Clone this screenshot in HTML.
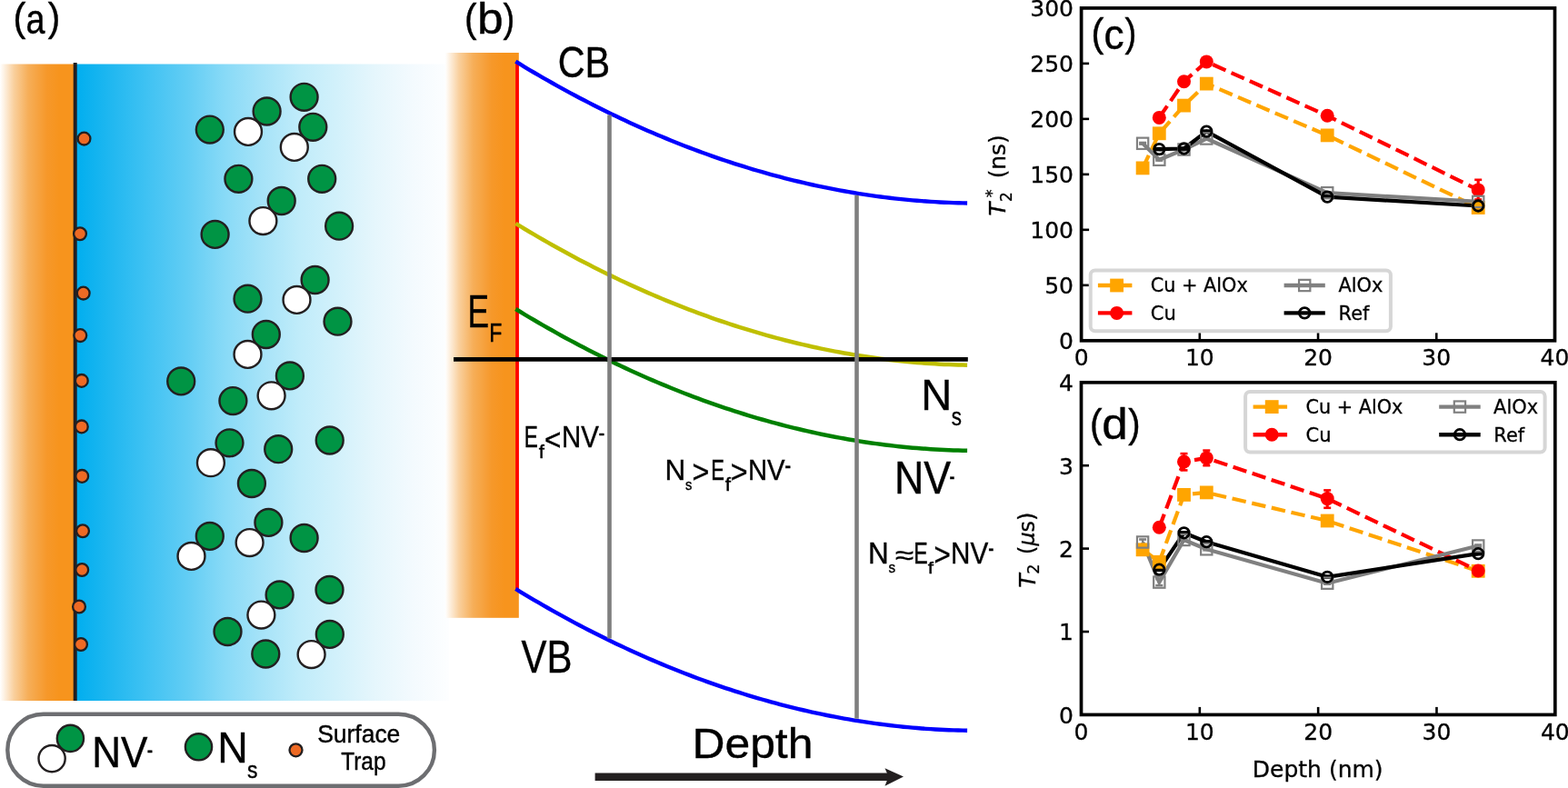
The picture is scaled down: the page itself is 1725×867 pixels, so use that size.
<!DOCTYPE html>
<html><head><meta charset="utf-8"><title>Figure</title>
<style>html,body{margin:0;padding:0;background:#fff;} svg{display:block;}</style></head>
<body><svg width="1725" height="867" viewBox="0 0 1725 867"><defs>
<linearGradient id="gOrA" gradientUnits="userSpaceOnUse" x1="0" y1="0" x2="82" y2="0"><stop offset="0" stop-color="#FFFFFF"/><stop offset="0.19" stop-color="#F9CF9C"/><stop offset="0.38" stop-color="#F6AE58"/><stop offset="0.63" stop-color="#F6982A"/><stop offset="0.8" stop-color="#F7941D"/><stop offset="1" stop-color="#F7941D"/></linearGradient>
<linearGradient id="gOrB" gradientUnits="userSpaceOnUse" x1="489.8" y1="0" x2="571" y2="0"><stop offset="0" stop-color="#FFFFFF"/><stop offset="0.19" stop-color="#F9CF9C"/><stop offset="0.38" stop-color="#F6AE58"/><stop offset="0.63" stop-color="#F6982A"/><stop offset="0.8" stop-color="#F7941D"/><stop offset="1" stop-color="#F7941D"/></linearGradient>
<linearGradient id="gBl" gradientUnits="userSpaceOnUse" x1="83" y1="0" x2="494" y2="0"><stop offset="0" stop-color="#00AEEF"/><stop offset="0.1" stop-color="#22B8F0"/><stop offset="0.2" stop-color="#42C3F3"/><stop offset="0.3" stop-color="#62CDF4"/><stop offset="0.4" stop-color="#88DAF7"/><stop offset="0.5" stop-color="#A6E3F8"/><stop offset="0.6" stop-color="#C0ECFA"/><stop offset="0.7" stop-color="#D2F1FB"/><stop offset="0.8" stop-color="#E5F6FC"/><stop offset="0.9" stop-color="#F3FAFE"/><stop offset="1" stop-color="#FDFEFF"/></linearGradient>
</defs>
<rect x="0" y="70.5" width="83" height="700.5" fill="url(#gOrA)"/>
<rect x="83" y="70.5" width="411" height="700.5" fill="url(#gBl)"/>
<line x1="82.7" y1="69" x2="82.7" y2="771" stroke="#231F20" stroke-width="4"/>
<circle cx="92.5" cy="152.6" r="6.9" fill="#EE6A24" stroke="#231F20" stroke-width="2.3"/>
<circle cx="88" cy="257.3" r="6.9" fill="#EE6A24" stroke="#231F20" stroke-width="2.3"/>
<circle cx="91.7" cy="322.6" r="6.9" fill="#EE6A24" stroke="#231F20" stroke-width="2.3"/>
<circle cx="88.3" cy="369.1" r="6.9" fill="#EE6A24" stroke="#231F20" stroke-width="2.3"/>
<circle cx="89.8" cy="418.9" r="6.9" fill="#EE6A24" stroke="#231F20" stroke-width="2.3"/>
<circle cx="89.8" cy="469.4" r="6.9" fill="#EE6A24" stroke="#231F20" stroke-width="2.3"/>
<circle cx="90.2" cy="523.9" r="6.9" fill="#EE6A24" stroke="#231F20" stroke-width="2.3"/>
<circle cx="91" cy="584.3" r="6.9" fill="#EE6A24" stroke="#231F20" stroke-width="2.3"/>
<circle cx="90.2" cy="627" r="6.9" fill="#EE6A24" stroke="#231F20" stroke-width="2.3"/>
<circle cx="87" cy="667.5" r="6.9" fill="#EE6A24" stroke="#231F20" stroke-width="2.3"/>
<circle cx="89" cy="709" r="6.9" fill="#EE6A24" stroke="#231F20" stroke-width="2.3"/>
<circle cx="230.8" cy="142.6" r="14.95" fill="#009444" stroke="#231F20" stroke-width="2.4"/>
<circle cx="293.6" cy="122.5" r="14.95" fill="#009444" stroke="#231F20" stroke-width="2.4"/>
<circle cx="334.6" cy="106.8" r="14.95" fill="#009444" stroke="#231F20" stroke-width="2.4"/>
<circle cx="344.3" cy="139.8" r="14.95" fill="#009444" stroke="#231F20" stroke-width="2.4"/>
<circle cx="262.4" cy="196.8" r="14.95" fill="#009444" stroke="#231F20" stroke-width="2.4"/>
<circle cx="354.2" cy="196.8" r="14.95" fill="#009444" stroke="#231F20" stroke-width="2.4"/>
<circle cx="309.7" cy="221.0" r="14.95" fill="#009444" stroke="#231F20" stroke-width="2.4"/>
<circle cx="236.6" cy="257.9" r="14.95" fill="#009444" stroke="#231F20" stroke-width="2.4"/>
<circle cx="373.1" cy="248.7" r="14.95" fill="#009444" stroke="#231F20" stroke-width="2.4"/>
<circle cx="346.6" cy="308.0" r="14.95" fill="#009444" stroke="#231F20" stroke-width="2.4"/>
<circle cx="272.5" cy="328.7" r="14.95" fill="#009444" stroke="#231F20" stroke-width="2.4"/>
<circle cx="371.5" cy="353.7" r="14.95" fill="#009444" stroke="#231F20" stroke-width="2.4"/>
<circle cx="292.8" cy="368.0" r="14.95" fill="#009444" stroke="#231F20" stroke-width="2.4"/>
<circle cx="199.2" cy="419.4" r="14.95" fill="#009444" stroke="#231F20" stroke-width="2.4"/>
<circle cx="318.9" cy="413.4" r="14.95" fill="#009444" stroke="#231F20" stroke-width="2.4"/>
<circle cx="256.4" cy="441.1" r="14.95" fill="#009444" stroke="#231F20" stroke-width="2.4"/>
<circle cx="252.5" cy="487.3" r="14.95" fill="#009444" stroke="#231F20" stroke-width="2.4"/>
<circle cx="306.2" cy="494.2" r="14.95" fill="#009444" stroke="#231F20" stroke-width="2.4"/>
<circle cx="362.7" cy="484.5" r="14.95" fill="#009444" stroke="#231F20" stroke-width="2.4"/>
<circle cx="276.9" cy="532.0" r="14.95" fill="#009444" stroke="#231F20" stroke-width="2.4"/>
<circle cx="295.4" cy="574.9" r="14.95" fill="#009444" stroke="#231F20" stroke-width="2.4"/>
<circle cx="230.8" cy="589.9" r="14.95" fill="#009444" stroke="#231F20" stroke-width="2.4"/>
<circle cx="334.6" cy="592.0" r="14.95" fill="#009444" stroke="#231F20" stroke-width="2.4"/>
<circle cx="307.6" cy="654.4" r="14.95" fill="#009444" stroke="#231F20" stroke-width="2.4"/>
<circle cx="362.5" cy="648.9" r="14.95" fill="#009444" stroke="#231F20" stroke-width="2.4"/>
<circle cx="250.5" cy="695.0" r="14.95" fill="#009444" stroke="#231F20" stroke-width="2.4"/>
<circle cx="362.8" cy="697.9" r="14.95" fill="#009444" stroke="#231F20" stroke-width="2.4"/>
<circle cx="292.3" cy="719.5" r="14.95" fill="#009444" stroke="#231F20" stroke-width="2.4"/>
<circle cx="273.0" cy="144.9" r="14.95" fill="#FFFFFF" stroke="#231F20" stroke-width="2.4"/>
<circle cx="323.8" cy="161.9" r="14.95" fill="#FFFFFF" stroke="#231F20" stroke-width="2.4"/>
<circle cx="289.4" cy="243.1" r="14.95" fill="#FFFFFF" stroke="#231F20" stroke-width="2.4"/>
<circle cx="326.5" cy="329.9" r="14.95" fill="#FFFFFF" stroke="#231F20" stroke-width="2.4"/>
<circle cx="272.5" cy="389.9" r="14.95" fill="#FFFFFF" stroke="#231F20" stroke-width="2.4"/>
<circle cx="298.6" cy="435.3" r="14.95" fill="#FFFFFF" stroke="#231F20" stroke-width="2.4"/>
<circle cx="231.9" cy="509.2" r="14.95" fill="#FFFFFF" stroke="#231F20" stroke-width="2.4"/>
<circle cx="274.6" cy="597.1" r="14.95" fill="#FFFFFF" stroke="#231F20" stroke-width="2.4"/>
<circle cx="210.5" cy="611.9" r="14.95" fill="#FFFFFF" stroke="#231F20" stroke-width="2.4"/>
<circle cx="287.4" cy="676.6" r="14.95" fill="#FFFFFF" stroke="#231F20" stroke-width="2.4"/>
<circle cx="342.6" cy="720.1" r="14.95" fill="#FFFFFF" stroke="#231F20" stroke-width="2.4"/>
<rect x="8.3" y="785.7" width="469.6" height="79" rx="39.5" ry="39.5" fill="none" stroke="#6D6E71" stroke-width="4.4"/>
<circle cx="77.4" cy="812.4" r="14.6" fill="#009444" stroke="#231F20" stroke-width="2.4"/>
<circle cx="57.1" cy="834.6" r="14.6" fill="#FFFFFF" stroke="#231F20" stroke-width="2.4"/>
<circle cx="218.5" cy="821.8" r="14.6" fill="#009444" stroke="#231F20" stroke-width="2.4"/>
<circle cx="325.5" cy="825.3" r="7.0" fill="#EE6A24" stroke="#231F20" stroke-width="2.3"/>
<rect x="489.8" y="58" width="81" height="621.8" fill="url(#gOrB)"/>
<line x1="569" y1="69" x2="569" y2="648" stroke="#FF0000" stroke-width="3.7"/>
<path d="M567.30,245.88 L572.32,248.94 L577.34,251.97 L582.35,254.97 L587.37,257.93 L592.39,260.86 L597.41,263.77 L602.43,266.64 L607.45,269.48 L612.46,272.29 L617.48,275.07 L622.50,277.82 L627.52,280.54 L632.54,283.23 L637.55,285.89 L642.57,288.51 L647.59,291.11 L652.61,293.67 L657.63,296.21 L662.65,298.71 L667.66,301.19 L672.68,303.63 L677.70,306.05 L682.72,308.43 L687.74,310.78 L692.75,313.11 L697.77,315.40 L702.79,317.66 L707.81,319.89 L712.83,322.10 L717.85,324.27 L722.86,326.41 L727.88,328.52 L732.90,330.60 L737.92,332.66 L742.94,334.68 L747.95,336.67 L752.97,338.63 L757.99,340.56 L763.01,342.47 L768.03,344.34 L773.05,346.18 L778.06,347.99 L783.08,349.78 L788.10,351.53 L793.12,353.25 L798.14,354.94 L803.15,356.61 L808.17,358.24 L813.19,359.84 L818.21,361.42 L823.23,362.96 L828.25,364.47 L833.26,365.96 L838.28,367.41 L843.30,368.83 L848.32,370.23 L853.34,371.59 L858.35,372.93 L863.37,374.23 L868.39,375.51 L873.41,376.75 L878.43,377.96 L883.45,379.15 L888.46,380.30 L893.48,381.43 L898.50,382.52 L903.52,383.59 L908.54,384.62 L913.55,385.63 L918.57,386.60 L923.59,387.55 L928.61,388.46 L933.63,389.34 L938.65,390.20 L943.66,391.02 L948.68,391.81 L953.70,392.58 L958.72,393.31 L963.74,394.01 L968.75,394.68 L973.77,395.33 L978.79,395.94 L983.81,396.52 L988.83,397.07 L993.85,397.59 L998.86,398.08 L1003.88,398.54 L1008.90,398.96 L1013.92,399.36 L1018.94,399.73 L1023.95,400.06 L1028.97,400.37 L1033.99,400.64 L1039.01,400.88 L1044.03,401.10 L1049.05,401.28 L1054.06,401.43 L1059.08,401.55 L1064.10,401.63" fill="none" stroke="#BFBF00" stroke-width="4.5"/>
<path d="M567.30,339.98 L572.32,343.04 L577.34,346.07 L582.35,349.07 L587.37,352.03 L592.39,354.96 L597.41,357.87 L602.43,360.74 L607.45,363.58 L612.46,366.39 L617.48,369.17 L622.50,371.92 L627.52,374.64 L632.54,377.33 L637.55,379.99 L642.57,382.61 L647.59,385.21 L652.61,387.77 L657.63,390.31 L662.65,392.81 L667.66,395.29 L672.68,397.73 L677.70,400.15 L682.72,402.53 L687.74,404.88 L692.75,407.21 L697.77,409.50 L702.79,411.76 L707.81,413.99 L712.83,416.20 L717.85,418.37 L722.86,420.51 L727.88,422.62 L732.90,424.70 L737.92,426.76 L742.94,428.78 L747.95,430.77 L752.97,432.73 L757.99,434.66 L763.01,436.57 L768.03,438.44 L773.05,440.28 L778.06,442.09 L783.08,443.88 L788.10,445.63 L793.12,447.35 L798.14,449.04 L803.15,450.71 L808.17,452.34 L813.19,453.94 L818.21,455.52 L823.23,457.06 L828.25,458.57 L833.26,460.06 L838.28,461.51 L843.30,462.93 L848.32,464.33 L853.34,465.69 L858.35,467.03 L863.37,468.33 L868.39,469.61 L873.41,470.85 L878.43,472.06 L883.45,473.25 L888.46,474.40 L893.48,475.53 L898.50,476.62 L903.52,477.69 L908.54,478.72 L913.55,479.73 L918.57,480.70 L923.59,481.65 L928.61,482.56 L933.63,483.44 L938.65,484.30 L943.66,485.12 L948.68,485.91 L953.70,486.68 L958.72,487.41 L963.74,488.11 L968.75,488.78 L973.77,489.43 L978.79,490.04 L983.81,490.62 L988.83,491.17 L993.85,491.69 L998.86,492.18 L1003.88,492.64 L1008.90,493.06 L1013.92,493.46 L1018.94,493.83 L1023.95,494.16 L1028.97,494.47 L1033.99,494.74 L1039.01,494.98 L1044.03,495.20 L1049.05,495.38 L1054.06,495.53 L1059.08,495.65 L1064.10,495.73" fill="none" stroke="#008000" stroke-width="4.5"/>
<path d="M567.30,67.68 L572.32,70.74 L577.34,73.77 L582.35,76.77 L587.37,79.73 L592.39,82.66 L597.41,85.57 L602.43,88.44 L607.45,91.28 L612.46,94.09 L617.48,96.87 L622.50,99.62 L627.52,102.34 L632.54,105.03 L637.55,107.69 L642.57,110.31 L647.59,112.91 L652.61,115.47 L657.63,118.01 L662.65,120.51 L667.66,122.99 L672.68,125.43 L677.70,127.85 L682.72,130.23 L687.74,132.58 L692.75,134.91 L697.77,137.20 L702.79,139.46 L707.81,141.69 L712.83,143.90 L717.85,146.07 L722.86,148.21 L727.88,150.32 L732.90,152.40 L737.92,154.46 L742.94,156.48 L747.95,158.47 L752.97,160.43 L757.99,162.36 L763.01,164.27 L768.03,166.14 L773.05,167.98 L778.06,169.79 L783.08,171.58 L788.10,173.33 L793.12,175.05 L798.14,176.74 L803.15,178.41 L808.17,180.04 L813.19,181.64 L818.21,183.22 L823.23,184.76 L828.25,186.27 L833.26,187.76 L838.28,189.21 L843.30,190.63 L848.32,192.03 L853.34,193.39 L858.35,194.73 L863.37,196.03 L868.39,197.31 L873.41,198.55 L878.43,199.76 L883.45,200.95 L888.46,202.10 L893.48,203.23 L898.50,204.32 L903.52,205.39 L908.54,206.42 L913.55,207.43 L918.57,208.40 L923.59,209.35 L928.61,210.26 L933.63,211.14 L938.65,212.00 L943.66,212.82 L948.68,213.61 L953.70,214.38 L958.72,215.11 L963.74,215.81 L968.75,216.48 L973.77,217.13 L978.79,217.74 L983.81,218.32 L988.83,218.87 L993.85,219.39 L998.86,219.88 L1003.88,220.34 L1008.90,220.76 L1013.92,221.16 L1018.94,221.53 L1023.95,221.86 L1028.97,222.17 L1033.99,222.44 L1039.01,222.68 L1044.03,222.90 L1049.05,223.08 L1054.06,223.23 L1059.08,223.35 L1064.10,223.43" fill="none" stroke="#0000FF" stroke-width="4.4"/>
<path d="M567.30,647.98 L572.32,651.04 L577.34,654.07 L582.35,657.07 L587.37,660.03 L592.39,662.96 L597.41,665.87 L602.43,668.74 L607.45,671.58 L612.46,674.39 L617.48,677.17 L622.50,679.92 L627.52,682.64 L632.54,685.33 L637.55,687.99 L642.57,690.61 L647.59,693.21 L652.61,695.77 L657.63,698.31 L662.65,700.81 L667.66,703.29 L672.68,705.73 L677.70,708.15 L682.72,710.53 L687.74,712.88 L692.75,715.21 L697.77,717.50 L702.79,719.76 L707.81,721.99 L712.83,724.20 L717.85,726.37 L722.86,728.51 L727.88,730.62 L732.90,732.70 L737.92,734.76 L742.94,736.78 L747.95,738.77 L752.97,740.73 L757.99,742.66 L763.01,744.57 L768.03,746.44 L773.05,748.28 L778.06,750.09 L783.08,751.88 L788.10,753.63 L793.12,755.35 L798.14,757.04 L803.15,758.71 L808.17,760.34 L813.19,761.94 L818.21,763.52 L823.23,765.06 L828.25,766.57 L833.26,768.06 L838.28,769.51 L843.30,770.93 L848.32,772.33 L853.34,773.69 L858.35,775.03 L863.37,776.33 L868.39,777.61 L873.41,778.85 L878.43,780.06 L883.45,781.25 L888.46,782.40 L893.48,783.53 L898.50,784.62 L903.52,785.69 L908.54,786.72 L913.55,787.73 L918.57,788.70 L923.59,789.65 L928.61,790.56 L933.63,791.44 L938.65,792.30 L943.66,793.12 L948.68,793.91 L953.70,794.68 L958.72,795.41 L963.74,796.11 L968.75,796.78 L973.77,797.43 L978.79,798.04 L983.81,798.62 L988.83,799.17 L993.85,799.69 L998.86,800.18 L1003.88,800.64 L1008.90,801.06 L1013.92,801.46 L1018.94,801.83 L1023.95,802.16 L1028.97,802.47 L1033.99,802.74 L1039.01,802.98 L1044.03,803.20 L1049.05,803.38 L1054.06,803.53 L1059.08,803.65 L1064.10,803.73" fill="none" stroke="#0000FF" stroke-width="4.4"/>
<line x1="499" y1="395.4" x2="1064.8" y2="395.4" stroke="#000" stroke-width="4.6"/>
<line x1="670.5" y1="126.57" x2="670.5" y2="702.47" stroke="#7F7F7F" stroke-width="4.6"/>
<line x1="942.5" y1="214.83" x2="942.5" y2="790.73" stroke="#7F7F7F" stroke-width="4.6"/>
<path d="M654.6,850.4 L978,850.4 L978,858.9 L654.6,858.9 Z" fill="#231F20"/>
<path d="M994,854.6 L973.5,845.2 L977.5,854.6 L973.5,864.8 Z" fill="#231F20"/>
<text transform="matrix(0.41538,0,0,0.44362,14.51,34.48)" font-family="'Liberation Sans', sans-serif" font-style="normal" font-size="100" fill="#000" stroke="#000" stroke-width="0.931">(</text>
<text transform="matrix(0.37692,0,0,0.46364,28.39,37.44)" font-family="'Liberation Sans', sans-serif" font-style="normal" font-size="100" fill="#000" stroke="#000" stroke-width="0.952">a</text>
<text transform="matrix(0.40385,0,0,0.44362,52.80,34.48)" font-family="'Liberation Sans', sans-serif" font-style="normal" font-size="100" fill="#000" stroke="#000" stroke-width="0.944">)</text>
<text transform="matrix(0.40385,0,0,0.44255,510.88,34.51)" font-family="'Liberation Sans', sans-serif" font-style="normal" font-size="100" fill="#000" stroke="#000" stroke-width="0.945">(</text>
<text transform="matrix(0.51556,0,0,0.48514,525.11,37.31)" font-family="'Liberation Sans', sans-serif" font-style="normal" font-size="100" fill="#000" stroke="#000" stroke-width="0.799">b</text>
<text transform="matrix(0.38077,0,0,0.44255,553.52,34.51)" font-family="'Liberation Sans', sans-serif" font-style="normal" font-size="100" fill="#000" stroke="#000" stroke-width="0.972">)</text>
<text transform="matrix(0.41538,0,0,0.44149,1200.61,51.23)" font-family="'Liberation Sans', sans-serif" font-style="normal" font-size="100" fill="#000" stroke="#000" stroke-width="0.934">(</text>
<text transform="matrix(0.44186,0,0,0.45818,1214.53,54.14)" font-family="'Liberation Sans', sans-serif" font-style="normal" font-size="100" fill="#000" stroke="#000" stroke-width="0.889">c</text>
<text transform="matrix(0.38462,0,0,0.44149,1237.42,51.23)" font-family="'Liberation Sans', sans-serif" font-style="normal" font-size="100" fill="#000" stroke="#000" stroke-width="0.968">)</text>
<text transform="matrix(0.40385,0,0,0.43511,1198.88,480.76)" font-family="'Liberation Sans', sans-serif" font-style="normal" font-size="100" fill="#000" stroke="#000" stroke-width="0.954">(</text>
<text transform="matrix(0.51111,0,0,0.47973,1212.16,483.42)" font-family="'Liberation Sans', sans-serif" font-style="normal" font-size="100" fill="#000" stroke="#000" stroke-width="0.807">d</text>
<text transform="matrix(0.40000,0,0,0.43511,1241.30,480.76)" font-family="'Liberation Sans', sans-serif" font-style="normal" font-size="100" fill="#000" stroke="#000" stroke-width="0.958">)</text>
<text transform="matrix(0.41318,0,0,0.47746,613.63,85.02)" font-family="'Liberation Sans', sans-serif" font-style="normal" font-size="100" fill="#000" stroke="#000" stroke-width="0.898">CB</text>
<text transform="matrix(0.35273,0,0,0.49565,514.48,359.80)" font-family="'Liberation Sans', sans-serif" font-style="normal" font-size="100" fill="#000" stroke="#000" stroke-width="0.943">E</text>
<text transform="matrix(0.23061,0,0,0.28841,538.36,375.90)" font-family="'Liberation Sans', sans-serif" font-style="normal" font-size="100" fill="#000" stroke="#000" stroke-width="1.541">F</text>
<text transform="matrix(0.22545,0,0,0.32319,576.80,492.30)" font-family="'Liberation Sans', sans-serif" font-style="normal" font-size="100" fill="#000" stroke="#000" stroke-width="1.458">E</text>
<text transform="matrix(0.22222,0,0,0.19726,592.78,503.80)" font-family="'Liberation Sans', sans-serif" font-style="normal" font-size="100" fill="#000" stroke="#000" stroke-width="1.907">f</text>
<text transform="matrix(0.31429,0,0,0.33800,598.93,494.70)" font-family="'Liberation Sans', sans-serif" font-style="normal" font-size="100" fill="#000" stroke="#000" stroke-width="1.226">&lt;</text>
<text transform="matrix(0.29385,0,0,0.32319,618.05,492.30)" font-family="'Liberation Sans', sans-serif" font-style="normal" font-size="100" fill="#000" stroke="#000" stroke-width="1.297">NV</text>
<text transform="matrix(0.20400,0,0,0.26250,658.48,484.74)" font-family="'Liberation Sans', sans-serif" font-style="normal" font-size="100" fill="#000" stroke="#000" stroke-width="1.715">-</text>
<text transform="matrix(0.31429,0,0,0.32174,731.39,528.00)" font-family="'Liberation Sans', sans-serif" font-style="normal" font-size="100" fill="#000" stroke="#000" stroke-width="1.258">N</text>
<text transform="matrix(0.14651,0,0,0.16000,754.06,539.44)" font-family="'Liberation Sans', sans-serif" font-style="normal" font-size="100" fill="#000" stroke="#000" stroke-width="2.610">s</text>
<text transform="matrix(0.32245,0,0,0.34200,761.49,530.74)" font-family="'Liberation Sans', sans-serif" font-style="normal" font-size="100" fill="#000" stroke="#000" stroke-width="1.204">&gt;</text>
<text transform="matrix(0.22000,0,0,0.32174,782.24,528.00)" font-family="'Liberation Sans', sans-serif" font-style="normal" font-size="100" fill="#000" stroke="#000" stroke-width="1.477">E</text>
<text transform="matrix(0.22593,0,0,0.19589,797.67,539.60)" font-family="'Liberation Sans', sans-serif" font-style="normal" font-size="100" fill="#000" stroke="#000" stroke-width="1.897">f</text>
<text transform="matrix(0.32245,0,0,0.34200,803.69,530.74)" font-family="'Liberation Sans', sans-serif" font-style="normal" font-size="100" fill="#000" stroke="#000" stroke-width="1.204">&gt;</text>
<text transform="matrix(0.29231,0,0,0.32174,822.96,528.00)" font-family="'Liberation Sans', sans-serif" font-style="normal" font-size="100" fill="#000" stroke="#000" stroke-width="1.303">NV</text>
<text transform="matrix(0.20800,0,0,0.27500,863.37,520.83)" font-family="'Liberation Sans', sans-serif" font-style="normal" font-size="100" fill="#000" stroke="#000" stroke-width="1.656">-</text>
<text transform="matrix(0.31429,0,0,0.32899,954.99,619.90)" font-family="'Liberation Sans', sans-serif" font-style="normal" font-size="100" fill="#000" stroke="#000" stroke-width="1.244">N</text>
<text transform="matrix(0.15116,0,0,0.16182,977.45,630.44)" font-family="'Liberation Sans', sans-serif" font-style="normal" font-size="100" fill="#000" stroke="#000" stroke-width="2.556">s</text>
<text transform="matrix(0.36939,0,0,0.30000,984.69,621.00)" font-family="'Liberation Sans', sans-serif" font-style="normal" font-size="100" fill="#000" stroke="#000" stroke-width="1.195">≈</text>
<text transform="matrix(0.23091,0,0,0.32899,1005.15,619.90)" font-family="'Liberation Sans', sans-serif" font-style="normal" font-size="100" fill="#000" stroke="#000" stroke-width="1.429">E</text>
<text transform="matrix(0.22593,0,0,0.19178,1020.77,630.60)" font-family="'Liberation Sans', sans-serif" font-style="normal" font-size="100" fill="#000" stroke="#000" stroke-width="1.915">f</text>
<text transform="matrix(0.31224,0,0,0.34400,1027.44,621.75)" font-family="'Liberation Sans', sans-serif" font-style="normal" font-size="100" fill="#000" stroke="#000" stroke-width="1.219">&gt;</text>
<text transform="matrix(0.29615,0,0,0.32899,1046.03,619.90)" font-family="'Liberation Sans', sans-serif" font-style="normal" font-size="100" fill="#000" stroke="#000" stroke-width="1.280">NV</text>
<text transform="matrix(0.18400,0,0,0.27500,1087.16,612.03)" font-family="'Liberation Sans', sans-serif" font-style="normal" font-size="100" fill="#000" stroke="#000" stroke-width="1.743">-</text>
<text transform="matrix(0.47143,0,0,0.48986,1013.33,451.30)" font-family="'Liberation Sans', sans-serif" font-style="normal" font-size="100" fill="#000" stroke="#000" stroke-width="0.832">N</text>
<text transform="matrix(0.22326,0,0,0.26909,1046.83,468.03)" font-family="'Liberation Sans', sans-serif" font-style="normal" font-size="100" fill="#000" stroke="#000" stroke-width="1.625">s</text>
<text transform="matrix(0.44769,0,0,0.49420,983.92,543.00)" font-family="'Liberation Sans', sans-serif" font-style="normal" font-size="100" fill="#000" stroke="#000" stroke-width="0.849">NV</text>
<text transform="matrix(0.17600,0,0,0.27500,1044.60,532.53)" font-family="'Liberation Sans', sans-serif" font-style="normal" font-size="100" fill="#000" stroke="#000" stroke-width="1.774">-</text>
<text transform="matrix(0.41890,0,0,0.50290,573.48,739.70)" font-family="'Liberation Sans', sans-serif" font-style="normal" font-size="100" fill="#000" stroke="#000" stroke-width="0.868">VB</text>
<text transform="matrix(0.49802,0,0,0.45638,761.52,833.72)" font-family="'Liberation Sans', sans-serif" font-style="normal" font-size="100" fill="#000" stroke="#000" stroke-width="0.838">Depth</text>
<text transform="matrix(0.44077,0,0,0.48986,101.17,843.80)" font-family="'Liberation Sans', sans-serif" font-style="normal" font-size="100" fill="#000" stroke="#000" stroke-width="0.860">NV</text>
<text transform="matrix(0.19200,0,0,0.27500,161.73,833.53)" font-family="'Liberation Sans', sans-serif" font-style="normal" font-size="100" fill="#000" stroke="#000" stroke-width="1.713">-</text>
<text transform="matrix(0.46429,0,0,0.48551,239.19,839.30)" font-family="'Liberation Sans', sans-serif" font-style="normal" font-size="100" fill="#000" stroke="#000" stroke-width="0.842">N</text>
<text transform="matrix(0.22791,0,0,0.26000,271.92,856.34)" font-family="'Liberation Sans', sans-serif" font-style="normal" font-size="100" fill="#000" stroke="#000" stroke-width="1.640">s</text>
<text transform="matrix(0.26448,0,0,0.27703,349.18,817.12)" font-family="'Liberation Sans', sans-serif" font-style="normal" font-size="100" fill="#000" stroke="#000" stroke-width="1.477">Surface</text>
<text transform="matrix(0.24439,0,0,0.28000,375.21,847.32)" font-family="'Liberation Sans', sans-serif" font-style="normal" font-size="100" fill="#000" stroke="#000" stroke-width="1.526">Trap</text>
<line x1="1189.6" y1="313.82" x2="1198.10" y2="313.82" stroke="#000" stroke-width="2.6"/>
<line x1="1189.6" y1="252.83" x2="1198.10" y2="252.83" stroke="#000" stroke-width="2.6"/>
<line x1="1189.6" y1="191.85" x2="1198.10" y2="191.85" stroke="#000" stroke-width="2.6"/>
<line x1="1189.6" y1="130.87" x2="1198.10" y2="130.87" stroke="#000" stroke-width="2.6"/>
<line x1="1189.6" y1="69.88" x2="1198.10" y2="69.88" stroke="#000" stroke-width="2.6"/>
<line x1="1319.82" y1="374.8" x2="1319.82" y2="366.30" stroke="#000" stroke-width="2.6"/>
<line x1="1450.05" y1="374.8" x2="1450.05" y2="366.30" stroke="#000" stroke-width="2.6"/>
<line x1="1580.28" y1="374.8" x2="1580.28" y2="366.30" stroke="#000" stroke-width="2.6"/>
<rect x="1189.6" y="8.9" width="520.9000000000001" height="365.90000000000003" fill="none" stroke="#000" stroke-width="3.7"/>
<text transform="translate(1181.00,384.15)" font-family="'DejaVu Sans', sans-serif" font-size="25" text-anchor="end" stroke="#000" stroke-width="0.3">0</text>
<text transform="translate(1181.00,323.17)" font-family="'DejaVu Sans', sans-serif" font-size="25" text-anchor="end" stroke="#000" stroke-width="0.3">50</text>
<text transform="translate(1181.00,262.18)" font-family="'DejaVu Sans', sans-serif" font-size="25" text-anchor="end" stroke="#000" stroke-width="0.3">100</text>
<text transform="translate(1181.00,201.20)" font-family="'DejaVu Sans', sans-serif" font-size="25" text-anchor="end" stroke="#000" stroke-width="0.3">150</text>
<text transform="translate(1181.00,140.22)" font-family="'DejaVu Sans', sans-serif" font-size="25" text-anchor="end" stroke="#000" stroke-width="0.3">200</text>
<text transform="translate(1181.00,79.23)" font-family="'DejaVu Sans', sans-serif" font-size="25" text-anchor="end" stroke="#000" stroke-width="0.3">250</text>
<text transform="translate(1181.00,18.25)" font-family="'DejaVu Sans', sans-serif" font-size="25" text-anchor="end" stroke="#000" stroke-width="0.3">300</text>
<text transform="translate(1189.60,402.30)" font-family="'DejaVu Sans', sans-serif" font-size="25" text-anchor="middle" stroke="#000" stroke-width="0.3">0</text>
<text transform="translate(1319.82,402.30)" font-family="'DejaVu Sans', sans-serif" font-size="25" text-anchor="middle" stroke="#000" stroke-width="0.3">10</text>
<text transform="translate(1450.05,402.30)" font-family="'DejaVu Sans', sans-serif" font-size="25" text-anchor="middle" stroke="#000" stroke-width="0.3">20</text>
<text transform="translate(1580.28,402.30)" font-family="'DejaVu Sans', sans-serif" font-size="25" text-anchor="middle" stroke="#000" stroke-width="0.3">30</text>
<text transform="translate(1710.50,402.30)" font-family="'DejaVu Sans', sans-serif" font-size="25" text-anchor="middle" stroke="#000" stroke-width="0.3">40</text>
<line x1="1189.5" y1="695.00" x2="1198.00" y2="695.00" stroke="#000" stroke-width="2.6"/>
<line x1="1189.5" y1="603.60" x2="1198.00" y2="603.60" stroke="#000" stroke-width="2.6"/>
<line x1="1189.5" y1="512.20" x2="1198.00" y2="512.20" stroke="#000" stroke-width="2.6"/>
<line x1="1319.83" y1="786.4" x2="1319.83" y2="777.90" stroke="#000" stroke-width="2.6"/>
<line x1="1450.15" y1="786.4" x2="1450.15" y2="777.90" stroke="#000" stroke-width="2.6"/>
<line x1="1580.47" y1="786.4" x2="1580.47" y2="777.90" stroke="#000" stroke-width="2.6"/>
<rect x="1189.5" y="420.8" width="521.3" height="365.59999999999997" fill="none" stroke="#000" stroke-width="3.7"/>
<text transform="translate(1180.90,795.75)" font-family="'DejaVu Sans', sans-serif" font-size="25" text-anchor="end" stroke="#000" stroke-width="0.3">0</text>
<text transform="translate(1180.90,704.35)" font-family="'DejaVu Sans', sans-serif" font-size="25" text-anchor="end" stroke="#000" stroke-width="0.3">1</text>
<text transform="translate(1180.90,612.95)" font-family="'DejaVu Sans', sans-serif" font-size="25" text-anchor="end" stroke="#000" stroke-width="0.3">2</text>
<text transform="translate(1180.90,521.55)" font-family="'DejaVu Sans', sans-serif" font-size="25" text-anchor="end" stroke="#000" stroke-width="0.3">3</text>
<text transform="translate(1180.90,430.15)" font-family="'DejaVu Sans', sans-serif" font-size="25" text-anchor="end" stroke="#000" stroke-width="0.3">4</text>
<text transform="translate(1189.50,813.90)" font-family="'DejaVu Sans', sans-serif" font-size="25" text-anchor="middle" stroke="#000" stroke-width="0.3">0</text>
<text transform="translate(1319.83,813.90)" font-family="'DejaVu Sans', sans-serif" font-size="25" text-anchor="middle" stroke="#000" stroke-width="0.3">10</text>
<text transform="translate(1450.15,813.90)" font-family="'DejaVu Sans', sans-serif" font-size="25" text-anchor="middle" stroke="#000" stroke-width="0.3">20</text>
<text transform="translate(1580.47,813.90)" font-family="'DejaVu Sans', sans-serif" font-size="25" text-anchor="middle" stroke="#000" stroke-width="0.3">30</text>
<text transform="translate(1710.80,813.90)" font-family="'DejaVu Sans', sans-serif" font-size="25" text-anchor="middle" stroke="#000" stroke-width="0.3">40</text>
<text x="1449.7" y="854.7" font-family="'DejaVu Sans', sans-serif" font-size="25" text-anchor="middle" stroke="#000" stroke-width="0.3">Depth (nm)</text>
<path d="M1257.1,184.9 L1275.3,146.8 L1302.5,116.1 L1327.3,92.1 L1460.2,148.9 L1626.2,228.5" fill="none" stroke="#FFA500" stroke-width="4.2" stroke-dasharray="15.5,6.7" stroke-linejoin="round"/>
<path d="M1275.3,129.4 L1302.5,89.7 L1327.3,67.9 L1460.2,127.3 L1626.2,208.9" fill="none" stroke="#FF0000" stroke-width="4.2" stroke-dasharray="15.5,6.7" stroke-linejoin="round"/>
<path d="M1257.1,157.8 L1275.3,175.8 L1302.5,164.5 L1327.3,152.5 L1460.2,212.2 L1626.2,221.9" fill="none" stroke="#808080" stroke-width="4.2" stroke-linejoin="round"/>
<path d="M1275.3,164.1 L1302.5,163.5 L1327.3,144.6 L1460.2,216.6 L1626.2,226.5" fill="none" stroke="#000000" stroke-width="4.2" stroke-linejoin="round"/>
<line x1="1626.2" y1="197.8" x2="1626.2" y2="219.5" stroke="#FF0000" stroke-width="3.2"/>
<line x1="1622.2" y1="197.8" x2="1630.2" y2="197.8" stroke="#FF0000" stroke-width="2.6"/>
<line x1="1622.2" y1="219.5" x2="1630.2" y2="219.5" stroke="#FF0000" stroke-width="2.6"/>
<line x1="1257.1" y1="157.0" x2="1257.1" y2="158.6" stroke="#808080" stroke-width="2.4"/>
<line x1="1253.1" y1="157.0" x2="1261.1" y2="157.0" stroke="#808080" stroke-width="2.6"/>
<line x1="1253.1" y1="158.6" x2="1261.1" y2="158.6" stroke="#808080" stroke-width="2.6"/>
<line x1="1275.3" y1="175.0" x2="1275.3" y2="176.6" stroke="#808080" stroke-width="2.4"/>
<line x1="1271.3" y1="175.0" x2="1279.3" y2="175.0" stroke="#808080" stroke-width="2.6"/>
<line x1="1271.3" y1="176.6" x2="1279.3" y2="176.6" stroke="#808080" stroke-width="2.6"/>
<line x1="1302.5" y1="163.7" x2="1302.5" y2="165.3" stroke="#808080" stroke-width="2.4"/>
<line x1="1298.5" y1="163.7" x2="1306.5" y2="163.7" stroke="#808080" stroke-width="2.6"/>
<line x1="1298.5" y1="165.3" x2="1306.5" y2="165.3" stroke="#808080" stroke-width="2.6"/>
<line x1="1327.3" y1="151.7" x2="1327.3" y2="153.3" stroke="#808080" stroke-width="2.4"/>
<line x1="1323.3" y1="151.7" x2="1331.3" y2="151.7" stroke="#808080" stroke-width="2.6"/>
<line x1="1323.3" y1="153.3" x2="1331.3" y2="153.3" stroke="#808080" stroke-width="2.6"/>
<line x1="1460.2" y1="211.4" x2="1460.2" y2="213.0" stroke="#808080" stroke-width="2.4"/>
<line x1="1456.2" y1="211.4" x2="1464.2" y2="211.4" stroke="#808080" stroke-width="2.6"/>
<line x1="1456.2" y1="213.0" x2="1464.2" y2="213.0" stroke="#808080" stroke-width="2.6"/>
<line x1="1626.2" y1="221.1" x2="1626.2" y2="222.7" stroke="#808080" stroke-width="2.4"/>
<line x1="1622.2" y1="221.1" x2="1630.2" y2="221.1" stroke="#808080" stroke-width="2.6"/>
<line x1="1622.2" y1="222.7" x2="1630.2" y2="222.7" stroke="#808080" stroke-width="2.6"/>
<line x1="1275.3" y1="163.1" x2="1275.3" y2="165.1" stroke="#000000" stroke-width="2.4"/>
<line x1="1270.7" y1="163.1" x2="1279.9" y2="163.1" stroke="#000000" stroke-width="2.6"/>
<line x1="1270.7" y1="165.1" x2="1279.9" y2="165.1" stroke="#000000" stroke-width="2.6"/>
<line x1="1302.5" y1="162.5" x2="1302.5" y2="164.5" stroke="#000000" stroke-width="2.4"/>
<line x1="1297.9" y1="162.5" x2="1307.1" y2="162.5" stroke="#000000" stroke-width="2.6"/>
<line x1="1297.9" y1="164.5" x2="1307.1" y2="164.5" stroke="#000000" stroke-width="2.6"/>
<line x1="1327.3" y1="143.6" x2="1327.3" y2="145.6" stroke="#000000" stroke-width="2.4"/>
<line x1="1322.7" y1="143.6" x2="1331.9" y2="143.6" stroke="#000000" stroke-width="2.6"/>
<line x1="1322.7" y1="145.6" x2="1331.9" y2="145.6" stroke="#000000" stroke-width="2.6"/>
<line x1="1460.2" y1="215.6" x2="1460.2" y2="217.6" stroke="#000000" stroke-width="2.4"/>
<line x1="1455.6" y1="215.6" x2="1464.8" y2="215.6" stroke="#000000" stroke-width="2.6"/>
<line x1="1455.6" y1="217.6" x2="1464.8" y2="217.6" stroke="#000000" stroke-width="2.6"/>
<line x1="1626.2" y1="225.5" x2="1626.2" y2="227.5" stroke="#000000" stroke-width="2.4"/>
<line x1="1621.6" y1="225.5" x2="1630.8" y2="225.5" stroke="#000000" stroke-width="2.6"/>
<line x1="1621.6" y1="227.5" x2="1630.8" y2="227.5" stroke="#000000" stroke-width="2.6"/>
<rect x="1249.7" y="177.5" width="14.8" height="14.8" fill="#FFA500"/>
<rect x="1267.9" y="139.4" width="14.8" height="14.8" fill="#FFA500"/>
<rect x="1295.1" y="108.7" width="14.8" height="14.8" fill="#FFA500"/>
<rect x="1319.9" y="84.7" width="14.8" height="14.8" fill="#FFA500"/>
<rect x="1452.8" y="141.5" width="14.8" height="14.8" fill="#FFA500"/>
<rect x="1618.8" y="221.1" width="14.8" height="14.8" fill="#FFA500"/>
<circle cx="1275.3" cy="129.4" r="7.5" fill="#FF0000"/>
<circle cx="1302.5" cy="89.7" r="7.5" fill="#FF0000"/>
<circle cx="1327.3" cy="67.9" r="7.5" fill="#FF0000"/>
<circle cx="1460.2" cy="127.3" r="7.5" fill="#FF0000"/>
<circle cx="1626.2" cy="208.9" r="7.5" fill="#FF0000"/>
<rect x="1250.95" y="151.65" width="12.3" height="12.3" fill="none" stroke="#808080" stroke-width="2.2"/>
<rect x="1269.15" y="169.65" width="12.3" height="12.3" fill="none" stroke="#808080" stroke-width="2.2"/>
<rect x="1296.35" y="158.35" width="12.3" height="12.3" fill="none" stroke="#808080" stroke-width="2.2"/>
<rect x="1321.15" y="146.35" width="12.3" height="12.3" fill="none" stroke="#808080" stroke-width="2.2"/>
<rect x="1454.05" y="206.05" width="12.3" height="12.3" fill="none" stroke="#808080" stroke-width="2.2"/>
<rect x="1620.05" y="215.75" width="12.3" height="12.3" fill="none" stroke="#808080" stroke-width="2.2"/>
<circle cx="1275.3" cy="164.1" r="5.75" fill="none" stroke="#000000" stroke-width="2.8"/>
<circle cx="1302.5" cy="163.5" r="5.75" fill="none" stroke="#000000" stroke-width="2.8"/>
<circle cx="1327.3" cy="144.6" r="5.75" fill="none" stroke="#000000" stroke-width="2.8"/>
<circle cx="1460.2" cy="216.6" r="5.75" fill="none" stroke="#000000" stroke-width="2.8"/>
<circle cx="1626.2" cy="226.5" r="5.75" fill="none" stroke="#000000" stroke-width="2.8"/>
<path d="M1257.1,604.8 L1275.3,618.3 L1302.5,544.4 L1327.3,541.9 L1460.2,573.0 L1626.2,628.3" fill="none" stroke="#FFA500" stroke-width="4.2" stroke-dasharray="15.5,6.7" stroke-linejoin="round"/>
<path d="M1275.3,580.2 L1302.5,508.0 L1327.3,503.9 L1460.2,548.6 L1626.2,628.0" fill="none" stroke="#FF0000" stroke-width="4.2" stroke-dasharray="15.5,6.7" stroke-linejoin="round"/>
<path d="M1257.1,596.5 L1275.3,640.6 L1302.5,594.0 L1327.3,604.3 L1460.2,641.7 L1626.2,600.5" fill="none" stroke="#808080" stroke-width="4.2" stroke-linejoin="round"/>
<path d="M1275.3,626.7 L1302.5,586.3 L1327.3,596.2 L1460.2,634.8 L1626.2,609.2" fill="none" stroke="#000000" stroke-width="4.2" stroke-linejoin="round"/>
<line x1="1302.5" y1="499.1" x2="1302.5" y2="517.4" stroke="#FF0000" stroke-width="3.2"/>
<line x1="1298.5" y1="499.1" x2="1306.5" y2="499.1" stroke="#FF0000" stroke-width="2.6"/>
<line x1="1298.5" y1="517.4" x2="1306.5" y2="517.4" stroke="#FF0000" stroke-width="2.6"/>
<line x1="1327.3" y1="495.6" x2="1327.3" y2="512.2" stroke="#FF0000" stroke-width="3.2"/>
<line x1="1323.3" y1="495.6" x2="1331.3" y2="495.6" stroke="#FF0000" stroke-width="2.6"/>
<line x1="1323.3" y1="512.2" x2="1331.3" y2="512.2" stroke="#FF0000" stroke-width="2.6"/>
<line x1="1460.2" y1="539.4" x2="1460.2" y2="558.8" stroke="#FF0000" stroke-width="3.2"/>
<line x1="1456.2" y1="539.4" x2="1464.2" y2="539.4" stroke="#FF0000" stroke-width="2.6"/>
<line x1="1456.2" y1="558.8" x2="1464.2" y2="558.8" stroke="#FF0000" stroke-width="2.6"/>
<line x1="1257.1" y1="593.5" x2="1257.1" y2="599.5" stroke="#808080" stroke-width="2.4"/>
<line x1="1253.1" y1="593.5" x2="1261.1" y2="593.5" stroke="#808080" stroke-width="2.6"/>
<line x1="1253.1" y1="599.5" x2="1261.1" y2="599.5" stroke="#808080" stroke-width="2.6"/>
<line x1="1275.3" y1="637.1" x2="1275.3" y2="644.1" stroke="#808080" stroke-width="2.4"/>
<line x1="1271.3" y1="637.1" x2="1279.3" y2="637.1" stroke="#808080" stroke-width="2.6"/>
<line x1="1271.3" y1="644.1" x2="1279.3" y2="644.1" stroke="#808080" stroke-width="2.6"/>
<line x1="1302.5" y1="593.0" x2="1302.5" y2="595.0" stroke="#808080" stroke-width="2.4"/>
<line x1="1298.5" y1="593.0" x2="1306.5" y2="593.0" stroke="#808080" stroke-width="2.6"/>
<line x1="1298.5" y1="595.0" x2="1306.5" y2="595.0" stroke="#808080" stroke-width="2.6"/>
<line x1="1327.3" y1="603.3" x2="1327.3" y2="605.3" stroke="#808080" stroke-width="2.4"/>
<line x1="1323.3" y1="603.3" x2="1331.3" y2="603.3" stroke="#808080" stroke-width="2.6"/>
<line x1="1323.3" y1="605.3" x2="1331.3" y2="605.3" stroke="#808080" stroke-width="2.6"/>
<line x1="1460.2" y1="640.7" x2="1460.2" y2="642.7" stroke="#808080" stroke-width="2.4"/>
<line x1="1456.2" y1="640.7" x2="1464.2" y2="640.7" stroke="#808080" stroke-width="2.6"/>
<line x1="1456.2" y1="642.7" x2="1464.2" y2="642.7" stroke="#808080" stroke-width="2.6"/>
<line x1="1626.2" y1="599.5" x2="1626.2" y2="601.5" stroke="#808080" stroke-width="2.4"/>
<line x1="1622.2" y1="599.5" x2="1630.2" y2="599.5" stroke="#808080" stroke-width="2.6"/>
<line x1="1622.2" y1="601.5" x2="1630.2" y2="601.5" stroke="#808080" stroke-width="2.6"/>
<line x1="1275.3" y1="625.7" x2="1275.3" y2="627.7" stroke="#000000" stroke-width="2.4"/>
<line x1="1270.7" y1="625.7" x2="1279.9" y2="625.7" stroke="#000000" stroke-width="2.6"/>
<line x1="1270.7" y1="627.7" x2="1279.9" y2="627.7" stroke="#000000" stroke-width="2.6"/>
<line x1="1302.5" y1="585.3" x2="1302.5" y2="587.3" stroke="#000000" stroke-width="2.4"/>
<line x1="1297.9" y1="585.3" x2="1307.1" y2="585.3" stroke="#000000" stroke-width="2.6"/>
<line x1="1297.9" y1="587.3" x2="1307.1" y2="587.3" stroke="#000000" stroke-width="2.6"/>
<line x1="1327.3" y1="595.2" x2="1327.3" y2="597.2" stroke="#000000" stroke-width="2.4"/>
<line x1="1322.7" y1="595.2" x2="1331.9" y2="595.2" stroke="#000000" stroke-width="2.6"/>
<line x1="1322.7" y1="597.2" x2="1331.9" y2="597.2" stroke="#000000" stroke-width="2.6"/>
<line x1="1460.2" y1="633.8" x2="1460.2" y2="635.8" stroke="#000000" stroke-width="2.4"/>
<line x1="1455.6" y1="633.8" x2="1464.8" y2="633.8" stroke="#000000" stroke-width="2.6"/>
<line x1="1455.6" y1="635.8" x2="1464.8" y2="635.8" stroke="#000000" stroke-width="2.6"/>
<line x1="1626.2" y1="608.2" x2="1626.2" y2="610.2" stroke="#000000" stroke-width="2.4"/>
<line x1="1621.6" y1="608.2" x2="1630.8" y2="608.2" stroke="#000000" stroke-width="2.6"/>
<line x1="1621.6" y1="610.2" x2="1630.8" y2="610.2" stroke="#000000" stroke-width="2.6"/>
<rect x="1249.7" y="597.4" width="14.8" height="14.8" fill="#FFA500"/>
<rect x="1267.9" y="610.9" width="14.8" height="14.8" fill="#FFA500"/>
<rect x="1295.1" y="537.0" width="14.8" height="14.8" fill="#FFA500"/>
<rect x="1319.9" y="534.5" width="14.8" height="14.8" fill="#FFA500"/>
<rect x="1452.8" y="565.6" width="14.8" height="14.8" fill="#FFA500"/>
<rect x="1618.8" y="620.9" width="14.8" height="14.8" fill="#FFA500"/>
<circle cx="1275.3" cy="580.2" r="7.5" fill="#FF0000"/>
<circle cx="1302.5" cy="508.0" r="7.5" fill="#FF0000"/>
<circle cx="1327.3" cy="503.9" r="7.5" fill="#FF0000"/>
<circle cx="1460.2" cy="548.6" r="7.5" fill="#FF0000"/>
<circle cx="1626.2" cy="628.0" r="7.5" fill="#FF0000"/>
<rect x="1250.95" y="590.35" width="12.3" height="12.3" fill="none" stroke="#808080" stroke-width="2.2"/>
<rect x="1269.15" y="634.45" width="12.3" height="12.3" fill="none" stroke="#808080" stroke-width="2.2"/>
<rect x="1296.35" y="587.85" width="12.3" height="12.3" fill="none" stroke="#808080" stroke-width="2.2"/>
<rect x="1321.15" y="598.15" width="12.3" height="12.3" fill="none" stroke="#808080" stroke-width="2.2"/>
<rect x="1454.05" y="635.55" width="12.3" height="12.3" fill="none" stroke="#808080" stroke-width="2.2"/>
<rect x="1620.05" y="594.35" width="12.3" height="12.3" fill="none" stroke="#808080" stroke-width="2.2"/>
<circle cx="1275.3" cy="626.7" r="5.75" fill="none" stroke="#000000" stroke-width="2.8"/>
<circle cx="1302.5" cy="586.3" r="5.75" fill="none" stroke="#000000" stroke-width="2.8"/>
<circle cx="1327.3" cy="596.2" r="5.75" fill="none" stroke="#000000" stroke-width="2.8"/>
<circle cx="1460.2" cy="634.8" r="5.75" fill="none" stroke="#000000" stroke-width="2.8"/>
<circle cx="1626.2" cy="609.2" r="5.75" fill="none" stroke="#000000" stroke-width="2.8"/>
<rect x="1199.7" y="297.4" width="330.20000000000005" height="66.80000000000001" rx="5" ry="5" fill="#FFFFFF" fill-opacity="0.8" stroke="#D6D6D6" stroke-width="4"/>
<line x1="1207.9" y1="314.0" x2="1245.4" y2="314.0" stroke="#FFA500" stroke-width="4.4"/>
<rect x="1221.2" y="306.6" width="14.8" height="14.8" fill="#FFA500"/>
<line x1="1207.9" y1="344.4" x2="1245.4" y2="344.4" stroke="#FF0000" stroke-width="4.4"/>
<circle cx="1228.6" cy="344.4" r="7.5" fill="#FF0000"/>
<line x1="1412.6" y1="314.0" x2="1457.8" y2="314.0" stroke="#808080" stroke-width="4.4"/>
<rect x="1429.05" y="307.85" width="12.3" height="12.3" fill="none" stroke="#808080" stroke-width="2.2"/>
<line x1="1412.6" y1="344.4" x2="1457.8" y2="344.4" stroke="#000000" stroke-width="4.4"/>
<circle cx="1435.2" cy="344.4" r="5.75" fill="none" stroke="#000000" stroke-width="2.8"/>
<rect x="1370.1" y="431.0" width="329.5" height="66.60000000000002" rx="5" ry="5" fill="#FFFFFF" fill-opacity="0.8" stroke="#D6D6D6" stroke-width="4"/>
<line x1="1378.6" y1="447.6" x2="1416.1" y2="447.6" stroke="#FFA500" stroke-width="4.4"/>
<rect x="1391.8" y="440.2" width="14.8" height="14.8" fill="#FFA500"/>
<line x1="1378.6" y1="478.2" x2="1416.1" y2="478.2" stroke="#FF0000" stroke-width="4.4"/>
<circle cx="1399.2" cy="478.2" r="7.5" fill="#FF0000"/>
<line x1="1583.2" y1="447.6" x2="1628.7" y2="447.6" stroke="#808080" stroke-width="4.4"/>
<rect x="1599.80" y="441.45" width="12.3" height="12.3" fill="none" stroke="#808080" stroke-width="2.2"/>
<line x1="1583.2" y1="478.2" x2="1628.7" y2="478.2" stroke="#000000" stroke-width="4.4"/>
<circle cx="1606.0" cy="478.2" r="5.75" fill="none" stroke="#000000" stroke-width="2.8"/>
<text transform="matrix(0.20792,0,0,0.20519,1265.75,321.19)" font-family="'DejaVu Sans', sans-serif" font-style="normal" font-size="100" fill="#000" stroke="#000" stroke-width="1.452">Cu + AlOx</text>
<text transform="matrix(0.21102,0,0,0.20921,1265.83,351.89)" font-family="'DejaVu Sans', sans-serif" font-style="normal" font-size="100" fill="#000" stroke="#000" stroke-width="1.428">Cu</text>
<text transform="matrix(0.20913,0,0,0.21299,1472.39,321.39)" font-family="'DejaVu Sans', sans-serif" font-style="normal" font-size="100" fill="#000" stroke="#000" stroke-width="1.421">AlOx</text>
<text transform="matrix(0.20909,0,0,0.20909,1472.61,351.69)" font-family="'DejaVu Sans', sans-serif" font-style="normal" font-size="100" fill="#000" stroke="#000" stroke-width="1.435">Ref</text>
<text transform="matrix(0.20792,0,0,0.20519,1436.45,455.09)" font-family="'DejaVu Sans', sans-serif" font-style="normal" font-size="100" fill="#000" stroke="#000" stroke-width="1.452">Cu + AlOx</text>
<text transform="matrix(0.21102,0,0,0.20921,1436.53,485.79)" font-family="'DejaVu Sans', sans-serif" font-style="normal" font-size="100" fill="#000" stroke="#000" stroke-width="1.428">Cu</text>
<text transform="matrix(0.20913,0,0,0.21299,1643.09,455.29)" font-family="'DejaVu Sans', sans-serif" font-style="normal" font-size="100" fill="#000" stroke="#000" stroke-width="1.421">AlOx</text>
<text transform="matrix(0.20909,0,0,0.20909,1643.31,485.59)" font-family="'DejaVu Sans', sans-serif" font-style="normal" font-size="100" fill="#000" stroke="#000" stroke-width="1.435">Ref</text>
<text transform="matrix(0,-0.24375,0.24795,0,1106.00,237.47)" font-family="'DejaVu Sans', sans-serif" font-style="oblique" font-size="100" fill="#000" stroke="#000" stroke-width="1.220">T</text>
<text transform="matrix(0,-0.17021,0.17297,0,1112.80,222.09)" font-family="'DejaVu Sans', sans-serif" font-style="normal" font-size="100" fill="#000" stroke="#000" stroke-width="1.748">2</text>
<text transform="matrix(0,-0.17727,0.18478,0,1097.06,217.33)" font-family="'DejaVu Sans', sans-serif" font-style="normal" font-size="100" fill="#000" stroke="#000" stroke-width="1.657">*</text>
<text transform="matrix(0,-0.24830,0.25618,0,1106.37,196.33)" font-family="'DejaVu Sans', sans-serif" font-style="normal" font-size="100" fill="#000" stroke="#000" stroke-width="1.189">(ns)</text>
<text transform="matrix(0,-0.25156,0.25616,0,1138.50,646.71)" font-family="'DejaVu Sans', sans-serif" font-style="oblique" font-size="100" fill="#000" stroke="#000" stroke-width="1.182">T</text>
<text transform="matrix(0,-0.17660,0.18243,0,1143.20,631.84)" font-family="'DejaVu Sans', sans-serif" font-style="normal" font-size="100" fill="#000" stroke="#000" stroke-width="1.671">2</text>
<text transform="matrix(0,-0.23920,0.24639,0,1138.03,609.95)" font-family="'DejaVu Sans', sans-serif" font-style="normal" font-size="100" fill="#000" stroke="#000" stroke-width="1.236">(<tspan font-style="oblique">μ</tspan>s)</text></svg></body></html>
